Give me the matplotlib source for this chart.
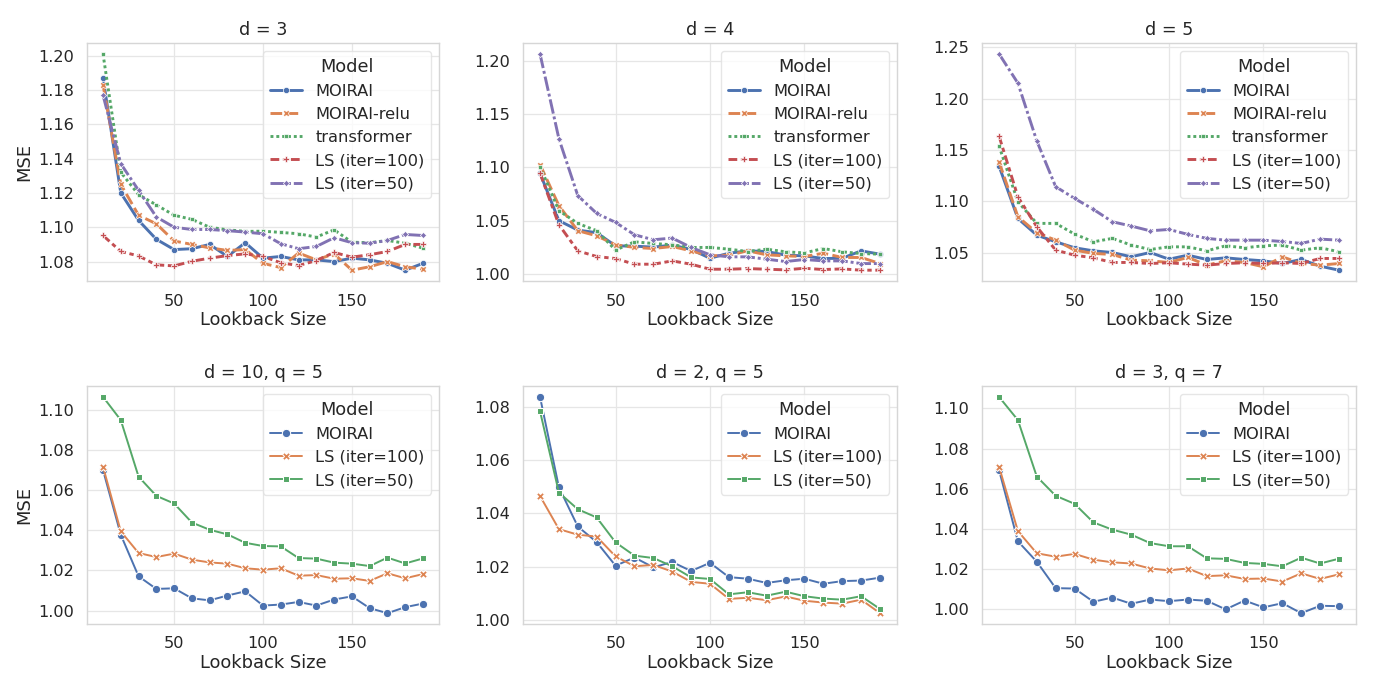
import matplotlib
matplotlib.use("Agg")
import matplotlib.pyplot as plt
import seaborn as sns
import numpy as np

sns.set_theme(style="whitegrid", font_scale=1.0)
plt.rcParams['font.family'] = ['DejaVu Sans']

lookback = list(range(10, 200, 10))

# ---- top row (d = 3, 4, 5) ----
top_models = ["MOIRAI", "MOIRAI-relu", "transformer", "LS (iter=100)", "LS (iter=50)"]

d3_moirai = [1.187, 1.120, 1.104, 1.093, 1.087, 1.0875, 1.090, 1.083, 1.091, 1.082, 1.083, 1.081, 1.081, 1.080, 1.082, 1.081, 1.079, 1.075, 1.079]
d3_relu = [1.183, 1.125, 1.107, 1.102, 1.092, 1.090, 1.088, 1.0865, 1.087, 1.079, 1.0765, 1.085, 1.081, 1.0845, 1.075, 1.077, 1.080, 1.077, 1.0756]
d3_transformer = [1.201, 1.132, 1.119, 1.113, 1.107, 1.1046, 1.100, 1.0985, 1.0976, 1.0977, 1.097, 1.0962, 1.0943, 1.0985, 1.0913, 1.091, 1.0923, 1.0907, 1.0878]
d3_ls100 = [1.0952, 1.0859, 1.0833, 1.0781, 1.0775, 1.0802, 1.082, 1.0835, 1.0845, 1.083, 1.0793, 1.0777, 1.0806, 1.0853, 1.0826, 1.084, 1.0859, 1.090, 1.090]
d3_ls50 = [1.177, 1.137, 1.1215, 1.106, 1.100, 1.0987, 1.0987, 1.098, 1.0972, 1.0962, 1.0904, 1.0875, 1.0888, 1.0939, 1.091, 1.0907, 1.0923, 1.0958, 1.0952]

d4_moirai = [1.0947, 1.0502, 1.0414, 1.0389, 1.0266, 1.0263, 1.0254, 1.0273, 1.0232, 1.015, 1.0197, 1.0219, 1.0213, 1.0179, 1.0172, 1.0147, 1.015, 1.0219, 1.0188]
d4_relu = [1.1028, 1.0643, 1.0408, 1.036, 1.0276, 1.0251, 1.0241, 1.026, 1.0219, 1.0172, 1.0179, 1.0219, 1.0182, 1.0172, 1.0166, 1.0197, 1.0157, 1.0157, 1.010]
d4_transformer = [1.1009, 1.0596, 1.0476, 1.0408, 1.0226, 1.0304, 1.0288, 1.0276, 1.0251, 1.0251, 1.0235, 1.0213, 1.0235, 1.021, 1.020, 1.0241, 1.021, 1.0194, 1.0188]
d4_ls100 = [1.0947, 1.0464, 1.0219, 1.0166, 1.0147, 1.0094, 1.0094, 1.0125, 1.0094, 1.0047, 1.0047, 1.0053, 1.0047, 1.0041, 1.0056, 1.0044, 1.005, 1.0038, 1.0038]
d4_ls50 = [1.2065, 1.127, 1.0737, 1.057, 1.0486, 1.037, 1.0323, 1.0339, 1.0251, 1.0182, 1.0163, 1.0163, 1.0141, 1.0119, 1.0138, 1.0125, 1.0125, 1.010, 1.010]

d5_moirai = [1.1344, 1.0834, 1.0672, 1.0607, 1.0549, 1.0519, 1.0503, 1.0461, 1.0503, 1.0438, 1.0477, 1.0435, 1.0451, 1.0435, 1.0422, 1.0396, 1.0435, 1.037, 1.0331]
d5_relu = [1.1386, 1.0851, 1.0695, 1.0623, 1.0526, 1.0494, 1.0484, 1.0429, 1.0422, 1.0406, 1.0455, 1.038, 1.0422, 1.0406, 1.0364, 1.0461, 1.0396, 1.038, 1.0396]
d5_transformer = [1.1539, 1.0997, 1.0786, 1.0786, 1.0682, 1.0607, 1.064, 1.0575, 1.0532, 1.0558, 1.0558, 1.0519, 1.0568, 1.0549, 1.0568, 1.0575, 1.0526, 1.0549, 1.051]
d5_ls100 = [1.1636, 1.1045, 1.0753, 1.0526, 1.0477, 1.0451, 1.0406, 1.0406, 1.0396, 1.0403, 1.039, 1.038, 1.0396, 1.0403, 1.0396, 1.0403, 1.0396, 1.0445, 1.0445]
d5_ls50 = [1.2435, 1.215, 1.1588, 1.1143, 1.1029, 1.0922, 1.0802, 1.076, 1.0714, 1.0727, 1.0679, 1.064, 1.0623, 1.0623, 1.0623, 1.061, 1.0591, 1.0633, 1.0623]

# ---- bottom row ----
bottom_models = ["MOIRAI", "LS (iter=100)", "LS (iter=50)"]

d10q5_moirai = [1.0701, 1.0378, 1.0171, 1.0108, 1.0111, 1.0061, 1.0051, 1.0075, 1.0096, 1.0025, 1.003, 1.0043, 1.0025, 1.0055, 1.0071, 1.0012, 0.9987, 1.0017, 1.0035]
d10q5_ls100 = [1.0718, 1.0395, 1.0287, 1.0267, 1.0284, 1.0254, 1.024, 1.0234, 1.0211, 1.0204, 1.0211, 1.0174, 1.0177, 1.0159, 1.0161, 1.0148, 1.0186, 1.0161, 1.0182]
d10q5_ls50 = [1.1066, 1.095, 1.0668, 1.0572, 1.0534, 1.0439, 1.0403, 1.038, 1.0338, 1.0322, 1.032, 1.0262, 1.0259, 1.0239, 1.0234, 1.0222, 1.0264, 1.0235, 1.026]

d2q5_moirai = [1.084, 1.0499, 1.0351, 1.0292, 1.0203, 1.0234, 1.0197, 1.0217, 1.0183, 1.0214, 1.016, 1.0154, 1.0138, 1.0148, 1.0154, 1.0135, 1.0145, 1.0147, 1.0158]
d2q5_ls100 = [1.0466, 1.0341, 1.032, 1.0313, 1.0238, 1.0201, 1.0206, 1.0181, 1.0142, 1.0135, 1.0078, 1.0082, 1.0073, 1.0087, 1.0071, 1.0064, 1.006, 1.0075, 1.0024]
d2q5_ls50 = [1.0786, 1.0479, 1.0416, 1.0385, 1.0291, 1.0241, 1.0232, 1.0201, 1.0159, 1.0153, 1.0095, 1.0103, 1.009, 1.0105, 1.0088, 1.0079, 1.0075, 1.0088, 1.004]

d3q7_moirai = [1.0693, 1.0337, 1.0235, 1.0103, 1.0101, 1.0035, 1.0056, 1.0025, 1.0046, 1.0038, 1.0046, 1.004, 0.9997, 1.0041, 1.0007, 1.0028, 0.9978, 1.0015, 1.0013]
d3q7_ls100 = [1.071, 1.0388, 1.0277, 1.026, 1.0274, 1.0245, 1.0232, 1.0226, 1.0201, 1.0192, 1.0201, 1.0163, 1.0167, 1.0149, 1.0151, 1.0136, 1.0177, 1.0149, 1.0172]
d3q7_ls50 = [1.1058, 1.0942, 1.066, 1.0564, 1.0524, 1.0431, 1.0395, 1.037, 1.0328, 1.0312, 1.0312, 1.0252, 1.0249, 1.0229, 1.0224, 1.0212, 1.0255, 1.0226, 1.025]

titles = ["d = 3", "d = 4", "d = 5", "d = 10, q = 5", "d = 2, q = 5", "d = 3, q = 7"]
panels = [
    [d3_moirai, d3_relu, d3_transformer, d3_ls100, d3_ls50],
    [d4_moirai, d4_relu, d4_transformer, d4_ls100, d4_ls50],
    [d5_moirai, d5_relu, d5_transformer, d5_ls100, d5_ls50],
    [d10q5_moirai, d10q5_ls100, d10q5_ls50],
    [d2q5_moirai, d2q5_ls100, d2q5_ls50],
    [d3q7_moirai, d3q7_ls100, d3q7_ls50],
]

pal = sns.color_palette("deep")
markers = ["o", "X", (4, 0, 45), "P", (4, 0, 0)]
dashes = [(None, None), (4, 1.5), (1, 1), (3, 1.25, 1.5, 1.25), (5, 1, 1, 1)]

W, H = 1376, 693
fig = plt.figure(figsize=(W / 100, H / 100), dpi=100)

col_left = [87, 523, 982]
col_right = [439, 897, 1356]
row_top = [43, 386]
row_bot = [281, 624]

for i in range(6):
    r, c = divmod(i, 3)
    ax = fig.add_axes([col_left[c] / W, 1 - row_bot[r] / H,
                       (col_right[c] - col_left[c]) / W, (row_bot[r] - row_top[r]) / H])
    series = panels[i]
    names = top_models if r == 0 else bottom_models
    for k, (name, vals) in enumerate(zip(names, series)):
        if r == 0:
            line, = ax.plot(lookback, vals, color=pal[k], lw=2.1, marker=markers[k],
                            ms=4.5, mec="white", mew=0.5, label=name)
            if k > 0:
                line.set_dashes(dashes[k])
        else:
            ax.plot(lookback, vals, color=pal[k], lw=1.4, marker=markers[k],
                    ms=6, mec="white", mew=0.75, label=name)
    ax.set_title(titles[i], fontsize=12.6, color="#262626")
    ax.set_xlabel("Lookback Size", fontsize=12.9, labelpad=2, color="#262626")
    if c == 0:
        ax.set_ylabel("MSE", fontsize=12.9, color="#262626")
    ax.set_xticks([50, 100, 150])
    ax.yaxis.set_major_formatter(matplotlib.ticker.FormatStrFormatter("%.2f"))
    ax.tick_params(labelsize=11.6, pad=3, colors="#262626")
    ax.grid(True, color="#e6e6e6", lw=0.9)
    for s in ax.spines.values():
        s.set_color("#d6d6d6")
        s.set_linewidth(1.0)
    leg = ax.legend(title="Model", loc="upper right", fontsize=11.7, title_fontsize=12.8,
                    handlelength=2.0)
    leg.get_frame().set_edgecolor("#e0e0e0")

fig.savefig("out.png", dpi=100)
